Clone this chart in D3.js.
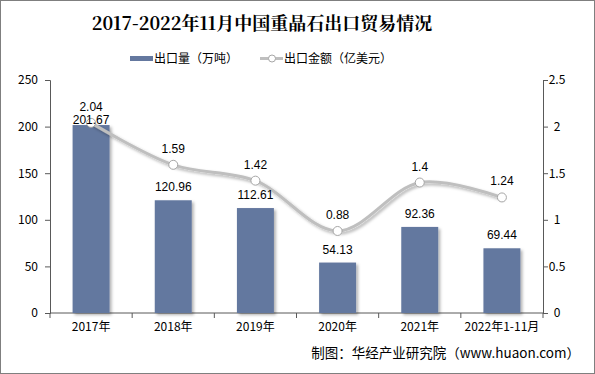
<!DOCTYPE html>
<meta charset="utf-8">
<script src="https://cdn.jsdelivr.net/npm/d3@7"></script>
<style>
  body { margin: 0; background: #fff; }
  svg text { font-family: "Liberation Sans", Arial, sans-serif; fill: #000; }
</style>
<div id="chart"></div>
<script>
// data
const years = ["2017年", "2018年", "2019年", "2020年", "2021年", "2022年1-11月"];
const volume = [201.67, 120.96, 112.61, 54.13, 92.36, 69.44];   // 出口量（万吨）
const amount = [2.04, 1.59, 1.42, 0.88, 1.4, 1.24];              // 出口金额（亿美元）
const leftTicks = [0, 50, 100, 150, 200, 250];
const rightTicks = [0, 0.5, 1, 1.5, 2, 2.5];

const W = 595, H = 374;
const m = {top: 80, right: 52, bottom: 61, left: 50};
const cjk = "'Noto Sans CJK SC', 'Liberation Sans', sans-serif";

const svg = d3.select("#chart").append("svg")
  .attr("width", W).attr("height", H);

const defs = svg.append("defs");
const sh = defs.append("filter").attr("id", "shadow")
  .attr("x", "-20%").attr("y", "-20%").attr("width", "150%").attr("height", "150%");
sh.append("feDropShadow").attr("dx", 2).attr("dy", 2).attr("stdDeviation", 1.5)
  .attr("flood-color", "#000").attr("flood-opacity", 0.3);

// outer frame
svg.append("rect").attr("x", 0.5).attr("y", 0.5).attr("width", W - 1).attr("height", H - 1)
  .attr("fill", "#fff").attr("stroke", "#7f7f7f");

const x = d3.scaleBand().domain(years).range([m.left, W - m.right]).paddingInner(0.55).paddingOuter(0.275);
const yL = d3.scaleLinear().domain([0, 250]).range([H - m.bottom, m.top]);
const yR = d3.scaleLinear().domain([0, 2.5]).range([H - m.bottom, m.top]);

// title
svg.append("text").attr("x", 262).attr("y", 30).attr("text-anchor", "middle")
  .style("font-family", "'Noto Serif CJK SC', 'DejaVu Serif', serif")
  .style("font-size", "18px").style("font-weight", "bold")
  .text("2017-2022年11月中国重晶石出口贸易情况");

// legend
const lg = svg.append("g").style("font-size", "12px");
lg.append("rect").attr("x", 130).attr("y", 56).attr("width", 23).attr("height", 5).attr("fill", "#64789f");
lg.append("text").attr("x", 154).attr("y", 63).style("font-family", cjk).text("出口量（万吨）");
lg.append("line").attr("x1", 260).attr("x2", 283).attr("y1", 58.5).attr("y2", 58.5)
  .attr("stroke", "#bfbfbf").attr("stroke-width", 3);
lg.append("circle").attr("cx", 272).attr("cy", 58.5).attr("r", 3.5).attr("fill", "#fff").attr("stroke", "#a6a6a6");
lg.append("text").attr("x", 284).attr("y", 63).style("font-family", cjk).text("出口金额（亿美元）");

// axes
const axL = svg.append("g").attr("transform", `translate(${m.left},0)`)
  .call(d3.axisLeft(yL).tickValues(leftTicks).tickSize(5).tickPadding(7));
const axR = svg.append("g").attr("transform", `translate(${W - m.right},0)`)
  .call(d3.axisRight(yR).tickValues(rightTicks).tickFormat(d => d).tickSize(5).tickPadding(4));
axR.selectAll("text").attr("text-anchor", "middle").attr("x", 14);
const axB = svg.append("g").attr("transform", `translate(0,${H - m.bottom})`)
  .call(d3.axisBottom(x).tickSize(0).tickPadding(9));
[axL, axR, axB].forEach(a => {
  a.selectAll("path").attr("stroke", "#595959");
  a.selectAll("line").attr("stroke", "#595959");
  a.selectAll("text").style("font-size", "12px").style("font-family", cjk);
});
axB.select("path").attr("d", `M${m.left},0H${W - m.right}`);
// category boundary ticks
const step = x.step();
axB.selectAll(".sep").data(d3.range(years.length + 1)).join("line")
  .attr("x1", i => m.left + i * step).attr("x2", i => m.left + i * step)
  .attr("y1", 0).attr("y2", 5).attr("stroke", "#595959");

// bars
svg.append("g").selectAll("rect").data(volume).join("rect")
  .attr("x", (d, i) => x(years[i]))
  .attr("y", d => yL(d))
  .attr("width", x.bandwidth())
  .attr("height", d => yL(0) - yL(d))
  .attr("fill", "#64789f")
  .attr("filter", "url(#shadow)");

// line
const pts = amount.map((d, i) => [x(years[i]) + x.bandwidth() / 2, yR(d)]);
svg.append("path").datum(pts)
  .attr("d", d3.line().curve(d3.curveCatmullRom.alpha(0.5)))
  .attr("fill", "none").attr("stroke", "#bfbfbf").attr("stroke-width", 3)
  .attr("filter", "url(#shadow)");

svg.append("g").selectAll("circle").data(pts).join("circle")
  .attr("cx", d => d[0]).attr("cy", d => d[1]).attr("r", 4.5)
  .attr("fill", "#fff").attr("stroke", "#a6a6a6").attr("stroke-width", 1);

// bar labels (the first one sits low, as in the original)
svg.append("g").selectAll("text").data(volume).join("text")
  .attr("x", (d, i) => x(years[i]) + x.bandwidth() / 2)
  .attr("y", (d, i) => yL(d) - (i === 0 ? 1 : 9))
  .attr("text-anchor", "middle")
  .style("font-size", "12px")
  .text(d => d);

svg.append("g").selectAll("text").data(amount).join("text")
  .attr("x", (d, i) => pts[i][0])
  .attr("y", (d, i) => pts[i][1] - 12)
  .attr("text-anchor", "middle")
  .style("font-size", "12px")
  .text(d => d);

// source
svg.append("text").attr("x", 580).attr("y", 358).attr("text-anchor", "end")
  .style("font-size", "13.5px").style("font-family", cjk)
  .text("制图：华经产业研究院（www.huaon.com）");
</script>
